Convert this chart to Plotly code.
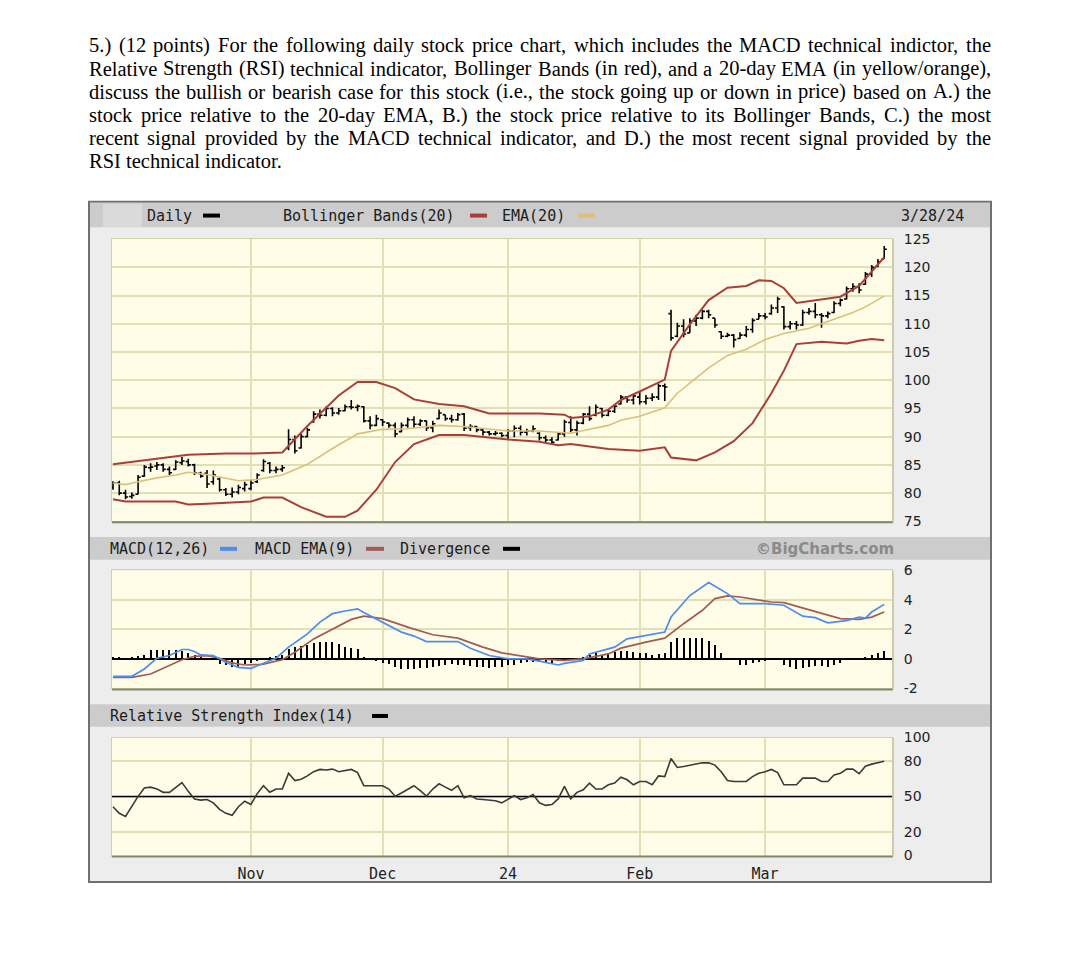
import pandas as pd
import plotly.graph_objects as go

PAGE_W, PAGE_H = 1068, 962
PAGE_MARGIN = 8  # default body margin of the html page
W, H = PAGE_W - 2 * PAGE_MARGIN, PAGE_H - 2 * PAGE_MARGIN

# ---------------- categories (trading days) ----------------
HOLIDAYS = ["2023-11-23", "2023-12-25", "2024-01-01", "2024-01-15", "2024-02-19"]
dates = [d for d in pd.bdate_range("2023-10-02", "2024-03-28")
         if d.strftime("%Y-%m-%d") not in HOLIDAYS]
day = list(range(len(dates)))
month_ticks = [i for i in range(1, len(dates)) if dates[i].month != dates[i - 1].month]
month_labels = ["Nov", "Dec", "24", "Feb", "Mar"]

# ---------------- daily OHLC ----------------
opens = [81.0, 81.8, 80.0, 79.4, 79.8, 83.0, 84.5, 84.8, 85.0, 84.2,
         84.2, 85.4, 85.6, 85.0, 83.5, 83.5, 82.0, 82.5, 80.6, 79.8,
         80.2, 80.8, 80.8, 82.0, 84.0, 85.3, 84.0, 84.2, 88.0, 89.5,
         88.0, 90.0, 92.6, 94.0, 93.8, 95.0, 94.2, 94.6, 95.3, 95.2,
         95.3, 92.8, 92.0, 93.0, 92.4, 92.0, 90.9, 92.0, 93.0, 92.2,
         92.8, 91.6, 93.2, 93.9, 93.2, 93.0, 94.0, 91.6, 91.8, 91.2,
         90.8, 90.5, 90.6, 90.2, 91.0, 91.5, 90.8, 91.0, 90.6, 89.8,
         89.4, 89.4, 90.5, 92.5, 91.2, 92.4, 94.0, 93.8, 95.0, 93.8,
         94.5, 95.8, 97.0, 96.5, 97.0, 96.2, 96.8, 97.0, 99.0, 111.8,
         107.8, 109.6, 108.4, 110.5, 111.0, 112.2, 111.0, 108.6, 107.8, 108.0,
         107.4, 108.0, 109.0, 110.8, 111.4, 111.8, 112.8, 113.0, 109.5, 110.0,
         109.8, 112.0, 112.2, 111.6, 111.4, 112.0, 113.6, 114.4, 116.2, 116.6,
         117.0, 118.8, 120.2, 121.5]
highs = [82.1, 82.2, 80.6, 80.1, 83.2, 85.0, 85.3, 85.5, 85.3, 84.7,
         85.8, 86.4, 86.1, 85.2, 83.8, 84.1, 84.0, 82.7, 80.9, 81.0,
         81.5, 82.0, 82.3, 83.5, 86.0, 85.5, 84.7, 85.0, 91.3, 90.2,
         90.5, 91.6, 94.5, 94.8, 95.4, 95.2, 95.1, 95.7, 96.5, 95.7,
         95.4, 93.6, 93.9, 93.1, 92.5, 92.5, 92.5, 93.4, 93.6, 93.1,
         92.8, 92.8, 94.8, 93.9, 93.9, 94.2, 94.2, 92.2, 91.9, 91.3,
         91.0, 91.0, 90.8, 91.3, 92.0, 92.0, 91.4, 92.0, 90.8, 90.2,
         89.9, 90.8, 93.0, 93.6, 92.8, 94.2, 95.4, 95.7, 95.1, 94.8,
         95.7, 97.4, 97.1, 97.4, 98.0, 97.4, 97.7, 99.4, 99.4, 112.5,
         110.2, 110.8, 111.0, 111.6, 112.5, 112.5, 111.0, 108.7, 108.4, 108.2,
         108.5, 109.6, 111.0, 111.9, 111.9, 113.4, 114.8, 113.1, 110.5, 110.5,
         112.5, 112.8, 113.7, 111.9, 112.2, 114.0, 114.5, 116.6, 117.2, 117.2,
         119.2, 120.4, 121.5, 123.8]
lows = [80.6, 79.6, 78.9, 79.0, 79.8, 82.9, 83.8, 84.1, 83.8, 83.2,
        84.1, 85.0, 84.7, 83.2, 82.7, 80.9, 81.5, 80.3, 79.5, 79.2,
        79.8, 80.3, 80.5, 81.8, 83.8, 83.5, 83.5, 83.8, 87.6, 87.0,
        87.9, 89.9, 92.5, 93.2, 93.6, 93.6, 93.9, 94.5, 94.8, 94.5,
        92.5, 91.3, 91.9, 91.9, 91.6, 89.9, 90.8, 91.6, 91.6, 91.9,
        91.0, 90.8, 93.1, 92.8, 92.5, 92.8, 91.0, 91.0, 90.8, 90.2,
        90.2, 90.2, 89.9, 89.6, 89.9, 90.2, 90.2, 90.8, 89.3, 89.0,
        88.7, 89.3, 90.0, 90.8, 90.2, 92.2, 92.8, 93.6, 93.4, 93.6,
        94.2, 95.7, 96.0, 95.7, 95.7, 95.7, 96.3, 96.5, 96.3, 107.0,
        107.6, 107.6, 108.4, 109.6, 110.8, 111.0, 109.3, 107.3, 107.6, 105.8,
        107.3, 107.6, 108.4, 110.8, 110.8, 111.6, 111.9, 109.0, 109.0, 109.0,
        109.6, 111.6, 111.0, 109.3, 111.0, 111.9, 113.1, 114.3, 115.7, 115.4,
        116.9, 118.3, 120.0, 121.5]
closes = [81.8, 80.0, 79.3, 79.6, 82.8, 84.6, 84.6, 85.0, 84.2, 83.6,
          85.5, 85.7, 85.0, 83.6, 83.0, 81.6, 83.2, 80.6, 79.8, 80.2,
          81.0, 81.5, 81.8, 83.2, 85.6, 84.0, 84.2, 84.5, 89.5, 87.5,
          90.0, 91.2, 94.0, 93.8, 95.0, 94.2, 94.6, 95.3, 95.2, 95.4,
          92.8, 92.0, 93.2, 92.6, 92.0, 90.5, 92.0, 93.0, 92.2, 92.8,
          91.6, 92.3, 94.2, 93.2, 93.0, 93.9, 91.5, 91.8, 91.2, 90.8,
          90.5, 90.6, 90.2, 91.0, 91.5, 90.8, 91.0, 91.4, 89.8, 89.4,
          89.0, 90.5, 92.6, 91.2, 92.4, 94.0, 93.2, 95.2, 93.8, 94.5,
          95.4, 97.0, 96.5, 97.2, 96.2, 96.8, 97.0, 99.0, 98.8, 107.5,
          109.6, 108.2, 110.5, 111.0, 112.2, 111.6, 109.8, 107.8, 108.0, 107.2,
          108.0, 109.0, 110.6, 111.4, 111.2, 112.8, 114.4, 109.5, 110.0, 109.8,
          112.0, 112.2, 111.6, 111.4, 111.8, 113.6, 114.2, 116.2, 116.6, 116.0,
          118.8, 120.0, 121.0, 123.2]

# ---------------- Bollinger Bands (20) and EMA (20), read at sample days ----------------
bb_up_day = [0, 7, 12, 18, 22, 27, 31, 36, 39, 42, 45, 48, 52, 56, 60, 68, 72, 73, 76, 79,
             81, 84, 86, 88, 89, 92, 95, 98, 101, 103, 105, 107, 109, 112, 116, 119, 121, 123]
bb_up = [85.1, 86.1, 86.8, 87.0, 87.0, 87.2, 91.9, 97.3, 99.7, 99.7, 98.6, 96.6, 95.8, 95.4,
         94.1, 94.1, 93.9, 93.3, 93.6, 94.8, 96.5, 98.0, 99.1, 100.1, 105.2, 109.9, 114.2,
         116.4, 116.7, 117.7, 117.6, 116.3, 113.7, 114.2, 114.8, 116.7, 119.3, 121.8]
bb_lo_day = [0, 2, 10, 12, 15, 22, 24, 27, 30, 34, 37, 39, 42, 45, 48, 52, 56, 63, 68, 71,
             73, 79, 84, 88, 89, 93, 96, 99, 102, 105, 107, 109, 113, 117, 119, 121, 123]
bb_lo = [78.9, 78.5, 78.5, 78.0, 78.1, 78.5, 79.2, 79.2, 77.5, 75.8, 75.8, 76.9, 80.6, 85.5,
         88.7, 90.3, 90.3, 89.5, 89.1, 88.5, 88.7, 87.8, 87.5, 88.1, 86.3, 85.8, 87.2, 89.2,
         92.4, 97.7, 101.7, 106.4, 106.8, 106.5, 107.0, 107.3, 107.1]
ema_day = [0, 2, 4, 7, 10, 12, 15, 18, 20, 23, 27, 31, 35, 39, 43, 47, 52, 56, 60, 63,
           68, 73, 76, 79, 81, 84, 88, 90, 95, 98, 101, 104, 107, 111, 114, 118, 120, 123]
ema20 = [81.8, 81.5, 82.0, 82.7, 83.2, 83.7, 83.3, 82.7, 82.2, 82.4, 83.2, 85.1, 87.9, 90.5,
         91.3, 91.4, 92.0, 91.8, 91.3, 91.0, 91.0, 90.6, 91.3, 92.0, 92.9, 93.6, 95.1, 97.7,
         102.2, 104.4, 105.5, 107.2, 108.3, 109.2, 110.4, 112.0, 113.0, 114.9]

# ---------------- MACD (12,26), signal EMA(9), divergence ----------------
macd_day = [0, 3, 5, 7, 9, 11, 12, 13, 14, 16, 18, 20, 22, 24, 26, 28, 31, 33, 35, 37,
            39, 40, 43, 46, 48, 50, 53, 55, 57, 60, 63, 66, 68, 71, 72, 75, 76, 80, 82, 85,
            88, 89, 92, 95, 98, 100, 104, 107, 110, 112, 114, 117, 119, 120, 121, 123]
macd = [-1.18, -1.18, -0.68, 0.05, 0.23, 0.64, 0.64, 0.5, 0.27, 0.23, -0.23, -0.57, -0.64,
        -0.27, 0.05, 0.8, 1.7, 2.5, 3.07, 3.25, 3.4, 3.15, 2.5, 1.82, 1.55, 1.18, 1.18, 1.18,
        0.73, 0.23, 0.0, 0.0, -0.15, -0.41, -0.3, -0.1, 0.34, 0.8, 1.36, 1.6, 1.82, 2.84,
        4.3, 5.18, 4.43, 3.75, 3.75, 3.64, 2.9, 2.8, 2.45, 2.6, 2.84, 2.77, 3.18, 3.7]
signal_day = [0, 3, 6, 9, 11, 13, 15, 17, 19, 21, 24, 27, 29, 32, 36, 38, 40, 43, 47, 51,
              55, 59, 62, 65, 68, 72, 75, 79, 81, 85, 88, 91, 94, 96, 98, 100, 103, 105,
              107, 110, 113, 116, 119, 121, 123]
signal = [-1.25, -1.25, -1.02, -0.45, -0.05, 0.18, 0.23, 0.05, -0.27, -0.41, -0.36, -0.05,
          0.45, 1.36, 2.27, 2.68, 2.9, 2.73, 2.16, 1.64, 1.41, 0.8, 0.41, 0.23, 0.0, -0.1,
          0.0, 0.34, 0.73, 1.14, 1.41, 2.39, 3.3, 4.09, 4.27, 4.2, 3.98, 3.86, 3.82, 3.45,
          3.07, 2.73, 2.68, 2.84, 3.18]
divergence = [0.05, 0.05, -0.1, 0.05, 0.15, 0.25, 0.55, 0.57, 0.57, 0.57,
              0.57, 0.5, 0.4, 0.25, 0.1, 0.02, -0.1, -0.35, -0.45, -0.57,
              -0.57, -0.35, -0.3, -0.2, -0.05, 0.1, 0.18, 0.27, 0.65, 0.77,
              0.84, 0.93, 1.05, 1.14, 1.14, 1.14, 1.0, 0.8, 0.7, 0.65,
              0.12, 0.0, -0.2, -0.3, -0.4, -0.6, -0.68, -0.68, -0.68, -0.64,
              -0.64, -0.57, -0.5, -0.41, -0.36, -0.41, -0.45, -0.5, -0.57, -0.57,
              -0.64, -0.57, -0.57, -0.45, -0.41, -0.34, -0.27, -0.23, -0.23, -0.3,
              -0.3, -0.2, -0.1, -0.05, 0.0, 0.05, 0.23, 0.34, 0.25, 0.34,
              0.45, 0.5, 0.5, 0.45, 0.4, 0.34, 0.23, 0.3, 0.34, 1.1,
              1.36, 1.41, 1.41, 1.41, 1.41, 1.2, 0.9, 0.4, 0.0, -0.1,
              -0.41, -0.41, -0.34, -0.27, -0.15, -0.1, -0.12, -0.41, -0.6, -0.68,
              -0.64, -0.57, -0.5, -0.5, -0.57, -0.45, -0.34, -0.11, 0.0, 0.0,
              0.11, 0.23, 0.34, 0.5]

# ---------------- RSI (14) ----------------
rsi = [41.4, 35.8, 33.1, 42.0, 50.2, 57.2, 58.0, 56.5, 53.6, 53.6,
       58.0, 61.9, 54.4, 48.0, 47.0, 47.5, 44.7, 39.2, 35.8, 34.2,
       41.4, 46.1, 43.3, 52.5, 59.2, 53.6, 56.4, 56.4, 69.7, 63.6,
       64.7, 67.5, 71.1, 73.0, 72.5, 73.3, 71.1, 71.9, 73.0, 70.3,
       59.2, 59.2, 59.2, 59.2, 56.4, 50.3, 53.0, 56.0, 59.2, 55.0,
       50.3, 56.4, 60.8, 58.0, 55.3, 59.2, 48.9, 50.8, 48.0, 47.5,
       47.0, 46.4, 44.7, 47.5, 50.8, 47.5, 48.9, 51.7, 44.7, 42.5,
       43.3, 48.0, 58.6, 48.0, 53.6, 55.8, 61.4, 56.4, 56.4, 60.0,
       61.4, 66.4, 64.2, 60.0, 62.8, 62.8, 60.0, 67.5, 66.9, 82.2,
       74.7, 75.5, 76.5, 77.5, 78.6, 78.6, 76.7, 71.1, 63.6, 62.8,
       62.8, 62.8, 66.9, 69.7, 71.1, 73.0, 70.3, 60.0, 60.0, 60.0,
       65.6, 65.6, 65.6, 62.8, 62.8, 68.3, 69.7, 73.3, 73.3, 69.4,
       75.8, 77.5, 78.8, 80.0]
RSI_MID = 50

# ---------------- axis ticks ----------------
price_ticks = [75, 80, 85, 90, 95, 100, 105, 110, 115, 120, 125]
macd_ticks = [-2, 0, 2, 4, 6]
macd_tick_text = ["-2", "0", "2", "4", "6"]
rsi_ticks = [0, 20, 50, 80, 100]

QUESTION_LINES = [
    "5.) (12 points) For the following daily stock price chart, which includes the MACD technical indictor, the",
    "Relative Strength (RSI) technical indicator, Bollinger Bands (in red), and a 20-day EMA (in yellow/orange),",
    "discuss the bullish or bearish case for this stock (i.e., the stock going up or down in price) based on A.) the",
    "stock price relative to the 20-day EMA, B.) the stock price relative to its Bollinger Bands, C.) the most",
    "recent signal provided by the MACD technical indicator, and D.) the most recent signal provided by the",
    "RSI technical indicator.",
]

# ---------------- styling / geometry (page pixel coordinates) ----------------
def px(x):
    return (x - PAGE_MARGIN) / W


def py(y):
    return 1 - (y - PAGE_MARGIN) / H


PLOT_L, PLOT_R = 112, 892
P1 = (235, 522)
P2 = (572, 692)
P3 = (742, 862)
XMIN, XMAX = -0.16, 124.24

CREAM = "#fffde7"
GRID = "#e0e0b6"
FRAME_BG = "#ededed"
HEAD_BG = "#cccccc"
RED = "#a8403a"
TAN = "#dcbf78"
BLUE = "#4d8cf0"
BROWN = "#a35a52"
MONO = "DejaVu Sans Mono"

fig = go.Figure()

fig.add_trace(go.Ohlc(
    x=day, open=opens, high=highs, low=lows, close=closes,
    increasing=dict(line=dict(color="black", width=1.6)),
    decreasing=dict(line=dict(color="black", width=1.6)),
    tickwidth=0.42, xaxis="x", yaxis="y", hoverinfo="skip", showlegend=False))
fig.add_trace(go.Scatter(x=bb_up_day, y=bb_up, mode="lines", line=dict(color=RED, width=2),
                         xaxis="x", yaxis="y", showlegend=False, hoverinfo="skip"))
fig.add_trace(go.Scatter(x=bb_lo_day, y=bb_lo, mode="lines", line=dict(color=RED, width=2),
                         xaxis="x", yaxis="y", showlegend=False, hoverinfo="skip"))
fig.add_trace(go.Scatter(x=ema_day, y=ema20, mode="lines", line=dict(color=TAN, width=1.6),
                         xaxis="x", yaxis="y", showlegend=False, hoverinfo="skip"))

fig.add_trace(go.Bar(x=day, y=divergence, width=0.32, marker=dict(color="black", line=dict(width=0)),
                     xaxis="x2", yaxis="y2", showlegend=False, hoverinfo="skip"))
fig.add_trace(go.Scatter(x=signal_day, y=signal, mode="lines", line=dict(color=BROWN, width=1.7),
                         xaxis="x2", yaxis="y2", showlegend=False, hoverinfo="skip"))
fig.add_trace(go.Scatter(x=macd_day, y=macd, mode="lines", line=dict(color=BLUE, width=1.7),
                         xaxis="x2", yaxis="y2", showlegend=False, hoverinfo="skip"))

fig.add_trace(go.Scatter(x=[XMIN, XMAX], y=[RSI_MID, RSI_MID], mode="lines",
                         line=dict(color="black", width=1.5),
                         xaxis="x3", yaxis="y3", showlegend=False, hoverinfo="skip"))
fig.add_trace(go.Scatter(x=day, y=rsi, mode="lines", line=dict(color="#3a3a3a", width=1.6),
                         xaxis="x3", yaxis="y3", showlegend=False, hoverinfo="skip"))

xdom = [px(PLOT_L), px(PLOT_R)]
common_x = dict(domain=xdom, range=[XMIN, XMAX], tickvals=month_ticks, showgrid=True,
                gridcolor=GRID, gridwidth=1.5, zeroline=False, showline=True,
                linecolor="#d2d2a6", linewidth=1, mirror=True, fixedrange=True)
tickfont = dict(family="DejaVu Sans", size=14, color="#222222")
common_y = dict(side="right", showgrid=True, gridcolor=GRID, gridwidth=1.5, showline=True,
                linecolor="#d2d2a6", linewidth=1, mirror=True, fixedrange=True,
                ticks="outside", ticklen=8, tickcolor="rgba(0,0,0,0)", tickfont=tickfont)

layout = dict(
    width=W, height=H, autosize=False, margin=dict(l=0, r=0, t=0, b=0),
    paper_bgcolor="white", plot_bgcolor="rgba(0,0,0,0)", showlegend=False, bargap=0,
    xaxis=dict(common_x, anchor="y", showticklabels=False, rangeslider=dict(visible=False)),
    xaxis2=dict(common_x, anchor="y2", showticklabels=False),
    xaxis3=dict(common_x, anchor="y3", ticktext=month_labels, showticklabels=True,
                ticks="outside", ticklen=4, tickcolor="rgba(0,0,0,0)",
                tickfont=dict(family=MONO, size=15, color="#222222")),
    yaxis=dict(common_y, anchor="x", domain=[py(P1[1]), py(P1[0])], range=[75, 125],
               tickvals=price_ticks, zeroline=False),
    yaxis2=dict(common_y, anchor="x2", domain=[py(P2[1]), py(P2[0])], range=[-2, 6],
                tickvals=macd_ticks, ticktext=macd_tick_text, zeroline=True,
                zerolinecolor="black", zerolinewidth=1.5),
    yaxis3=dict(common_y, anchor="x3", domain=[py(P3[1]), py(P3[0])], range=[0, 100],
                tickvals=rsi_ticks, zeroline=False),
)
fig.update_layout(**layout)

shapes = []


def rect(x0, y0, x1, y1, fill, line_color=None, lw=0, layer="below"):
    shapes.append(dict(type="rect", xref="paper", yref="paper", x0=px(x0), x1=px(x1),
                       y0=py(y1), y1=py(y0), fillcolor=fill, layer=layer,
                       line=dict(color=line_color or fill, width=lw)))


def seg(x0, y0, x1, y1, color, lw, layer="above"):
    shapes.append(dict(type="line", xref="paper", yref="paper", x0=px(x0), x1=px(x1),
                       y0=py(y0), y1=py(y1), layer=layer, line=dict(color=color, width=lw)))


# outer frame and header bars
rect(89, 197, 991, 889, FRAME_BG, "#707070", 2)
rect(90, 198, 990, 223, HEAD_BG)
rect(103, 199, 142, 223, "#dadada")
rect(90, 538, 990, 561, HEAD_BG)
rect(90, 708, 990, 731, HEAD_BG)
# plot backgrounds
for (t, b) in (P1, P2, P3):
    rect(PLOT_L, t, PLOT_R, b, CREAM)
    seg(PLOT_L, b + 1, PLOT_R + 1, b + 1, "#85856e", 2)
    seg(PLOT_R + 1, t, PLOT_R + 1, b + 1, "#c4c4a2", 1.5)

annotations = []


def label(x, y, text, size=15, color="#1c1c1c", family=MONO, anchor="left"):
    annotations.append(dict(x=px(x), y=py(y), xref="paper", yref="paper", text=text,
                            showarrow=False, xanchor=anchor, yanchor="middle",
                            borderpad=0, borderwidth=0,
                            font=dict(family=family, size=size, color=color)))


# header legends
label(147, 211, "Daily")
seg(203, 211, 220, 211, "black", 4)
label(283, 211, "Bollinger Bands(20)")
seg(470, 211, 487, 211, RED, 4)
label(502, 211, "EMA(20)")
seg(578, 211, 595, 211, TAN, 4)
label(901, 211, "3/28/24")

label(110, 550, "MACD(12,26)")
seg(220, 550, 237, 550, BLUE, 4)
label(255, 550, "MACD EMA(9)")
seg(366, 550, 384, 550, BROWN, 4)
label(400, 550, "Divergence")
seg(503, 550, 520, 550, "black", 4)
label(894, 550, "<b>©BigCharts.com</b>", size=15, color="#8a8a8a", family="DejaVu Sans",
      anchor="right")

label(110, 720, "Relative Strength Index(14)")
seg(372, 720, 388, 720, "black", 4)

# question text, justified like the source page
TW = {' ': 250, 'a': 444, 'b': 500, 'c': 444, 'd': 500, 'e': 444, 'f': 333, 'g': 500, 'h': 500,
      'i': 278, 'j': 278, 'k': 500, 'l': 278, 'm': 778, 'n': 500, 'o': 500, 'p': 500, 'q': 500,
      'r': 333, 's': 389, 't': 278, 'u': 500, 'v': 500, 'w': 722, 'x': 500, 'y': 500, 'z': 444,
      'A': 722, 'B': 667, 'C': 667, 'D': 722, 'E': 611, 'F': 556, 'G': 722, 'H': 722, 'I': 333,
      'J': 389, 'K': 722, 'L': 611, 'M': 889, 'N': 722, 'O': 722, 'P': 556, 'Q': 722, 'R': 667,
      'S': 556, 'T': 611, 'U': 722, 'V': 722, 'W': 944, 'X': 722, 'Y': 722, 'Z': 611,
      '.': 250, ',': 250, '(': 333, ')': 333, '-': 333, '/': 278, ':': 278, ';': 278}
FS = 20.5
TEXT_L, TEXT_R = 89, 991
LINE_Y0, LINE_DY = 38, 23.6


def text_w(s):
    return sum(TW.get(ch, 500) for ch in s) * FS / 1000.0


for k, line in enumerate(QUESTION_LINES):
    words = line.split(" ")
    ws = [text_w(w) for w in words]
    if k < len(QUESTION_LINES) - 1:
        gap = (TEXT_R - TEXT_L - sum(ws)) / (len(words) - 1)
    else:
        gap = text_w(" ")
    x = TEXT_L
    for w, wd in zip(words, ws):
        label(x, LINE_Y0 + k * LINE_DY, w, size=FS, color="black", family="Liberation Serif")
        x += wd + gap

fig.update_layout(shapes=shapes, annotations=annotations)
fig.write_html("out.html", config={"displayModeBar": False})
